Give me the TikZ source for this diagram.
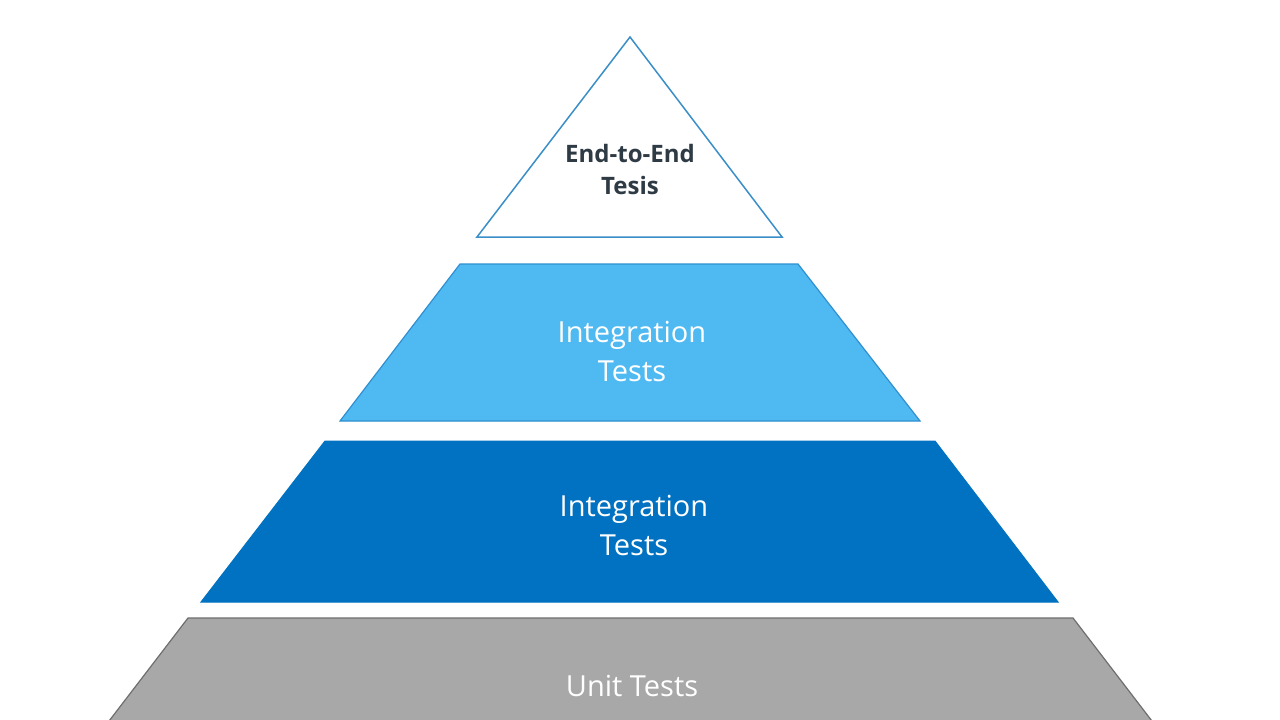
\documentclass[tikz,border=0pt]{standalone}
\usepackage{fontspec}
\setmainfont{Open Sans}
\definecolor{tri}{HTML}{3A8FC8}
\definecolor{light}{HTML}{4FBAF2}
\definecolor{lightedge}{HTML}{2F8FD0}
\definecolor{mid}{HTML}{0072C1}
\definecolor{gr}{HTML}{A8A8A8}
\definecolor{gredge}{HTML}{6E6E6E}
\definecolor{txt}{HTML}{2E3A44}
\tikzset{lbl/.style={align=center,font=\fontsize{29}{39}\selectfont,text=white}}
\begin{document}
\begin{tikzpicture}[x=1pt,y=-1pt]
\useasboundingbox (0,0) rectangle (1280,720);
\fill[white] (0,0) rectangle (1280,720);
\begin{scope}
\clip (0,0) rectangle (1280,720);
\draw[tri,fill=white,line width=1.5pt] (630,37) -- (782,237) -- (477,237) -- cycle;
\draw[lightedge,fill=light,line width=1.2pt] (460,264) -- (798,264) -- (920,421) -- (340,421) -- cycle;
\draw[mid,fill=mid,line width=1pt] (325,441) -- (935,441) -- (1058,602) -- (201,602) -- cycle;
\draw[gredge,fill=gr,line width=1.2pt] (188,618) -- (1073,618) -- (1155,725) -- (106,725) -- cycle;
\end{scope}
\node (e2e) [align=center,text=txt,font=\fontsize{24}{32}\selectfont\bfseries] at (630,169) {End-to-End\\Tesis};
\node (int1) [lbl] at (632,351) {Integration\\Tests};
\node (int2) [lbl] at (634,525) {Integration\\Tests};
\node (unit) [lbl] at (632,686) {Unit Tests};
\end{tikzpicture}
\end{document}
